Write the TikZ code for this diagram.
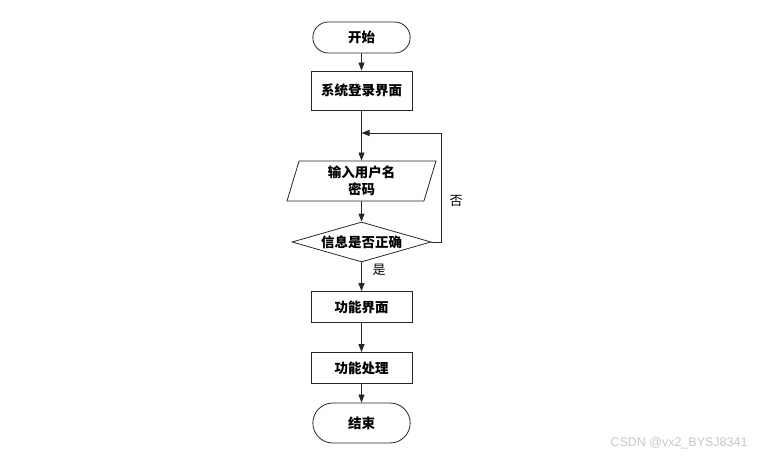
\documentclass[tikz,border=0pt]{standalone}
\usepackage{fontspec}
\newfontfamily\cjk{Noto Sans CJK SC}
\usetikzlibrary{shapes.geometric,shapes.misc,arrows.meta}

\tikzset{
  flowline/.style={draw=black!85, line width=0.8pt},
  arr/.style={flowline, -{Triangle[length=8pt,width=6pt]}},
  terminal/.style={rounded rectangle, flowline, minimum width=104pt, font=\cjk\bfseries\fontsize{13.5}{15}\selectfont},
  procbox/.style={rectangle, flowline, minimum width=101pt, font=\cjk\bfseries\fontsize{13.5}{15}\selectfont},
  iobox/.style={trapezium, trapezium left angle=68, trapezium right angle=112, trapezium stretches body,
    flowline, minimum width=149pt, minimum height=40pt, align=center, inner sep=0pt,
    font=\cjk\bfseries\fontsize{13.5}{17}\selectfont},
  decision/.style={diamond, flowline, aspect=3.5, inner sep=0pt, minimum width=139pt, minimum height=40pt,
    font=\cjk\bfseries\fontsize{13.5}{15}\selectfont},
  lbl/.style={font=\cjk\fontsize{13}{15}\selectfont}
}

\begin{document}
\begin{tikzpicture}[x=1pt,y=-1pt]
  \useasboundingbox (0,0) rectangle (765,457);

  % Knoten
  \node[terminal, minimum height=31pt] (start) at (361.5,37.5) {开始};
  \node[procbox, minimum height=39pt] (login) at (361.5,90.5) {系统登录界面};
  \node[iobox] (input) at (361.5,181) {输入用户名\\密码};
  \node[decision] (check) at (361.5,242) {信息是否正确};
  \node[procbox, minimum height=31pt] (menu) at (361.5,307) {功能界面};
  \node[procbox, minimum height=31pt] (work) at (361.5,368) {功能处理};
  \node[terminal, minimum height=40pt] (stop) at (361.5,423) {结束};

  \coordinate (back) at (441,242);
  \coordinate (join) at (361.5,133);

  % Verbindungen
  \draw[arr] (start) -- (login);
  \draw[arr] (login) -- (input);
  \draw[arr] (input) -- (check);
  \draw[arr] (check) -- (menu);
  \draw[arr] (menu) -- (work);
  \draw[arr] (work) -- (stop);
  \draw[arr] (check.east) -- (back) |- (join);

  \node[lbl] (no) at (456,201) {否};
  \node[lbl] (yes) at (379,270) {是};

  \node[text=black!22, font=\fontspec{Liberation Sans}\fontsize{12.5}{14}\selectfont] (mark) at (679,443) {CSDN @vx2\_BYSJ8341};
\end{tikzpicture}
\end{document}
